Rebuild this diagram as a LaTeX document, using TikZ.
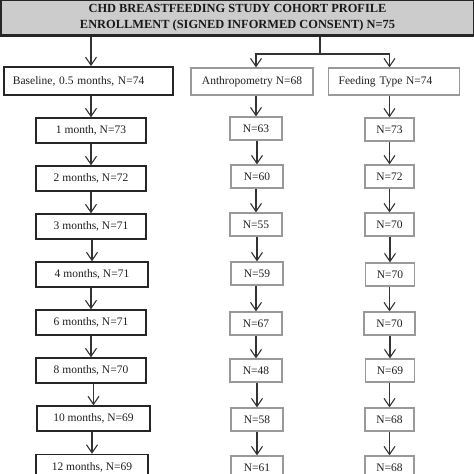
\documentclass[tikz,border=0pt]{standalone}
\usepackage{fontspec}
\setmainfont{Liberation Serif}
\usetikzlibrary{arrows.meta}
\begin{document}
\begin{tikzpicture}[x=1pt,y=-1pt,
  txt/.style={font=\fontsize{11.5}{13}\selectfont, text=black!88},
  lbox/.style={txt, draw=black!85, line width=1.5pt, minimum height=25pt, minimum width=110pt, inner sep=0pt},
  gbox/.style={txt, draw=black!40, line width=1.3pt, minimum height=23pt, inner sep=0pt},
  mbox/.style={gbox, minimum width=52pt},
  rbox/.style={gbox, minimum width=49pt},
  link/.style={draw=black!80, line width=1.1pt},
  arr/.style={link, -{Straight Barb[length=8pt,width=11pt,line width=1.1pt]}},
]
\useasboundingbox (0,0) rectangle (474,474);
\clip (0,0) rectangle (474,474);

% header
\node[draw=black!85, fill=black!20, line width=2.2pt, minimum width=473pt, minimum height=36pt,
      inner sep=0pt, align=center, font=\fontsize{12.4}{16}\selectfont\bfseries, text=black!90]
  (head) at (237.5,17.5) {CHD BREASTFEEDING STUDY COHORT PROFILE\\ENROLLMENT (SIGNED INFORMED CONSENT) N=75};

% left column
\node[lbox, line width=1.8pt, minimum height=28pt, minimum width=0pt, anchor=west, text width=151pt, align=left, inner xsep=9pt]
  (base) at (3,81) {Baseline, 0.5 months, N=74};
\node[lbox] (m1) at (91,130.5) {1 month, N=73};
\node[lbox] (m2) at (91,178.5) {2 months, N=72};
\node[lbox] (m3) at (91,226.5) {3 months, N=71};
\node[lbox, minimum width=112pt] (m4) at (92,274.5) {4 months, N=71};
\node[lbox] (m6) at (91,322.5) {6 months, N=71};
\node[lbox] (m8) at (91,370.5) {8 months, N=70};
\node[lbox, minimum width=113pt] (m10) at (93.5,418.5) {10 months, N=69};
\node[lbox, minimum width=112pt] (m12) at (92,467) {12 months, N=69};

% middle column
\node[gbox, minimum height=27pt, minimum width=122pt] (anth) at (252,81.5) {Anthropometry N=68};
\node[mbox] (a1) at (256,128.5) {N=63};
\node[mbox] (a2) at (257,176.5) {N=60};
\node[mbox] (a3) at (256,224.5) {N=55};
\node[mbox] (a4) at (257,273.5) {N=59};
\node[mbox] (a6) at (256,323.5) {N=67};
\node[mbox] (a8) at (256,370.5) {N=48};
\node[mbox] (a10) at (257,419.5) {N=58};
\node[mbox] (a12) at (257,467.5) {N=61};

% right column
\node[gbox, minimum height=27pt, anchor=west, text width=111pt, align=left, inner xsep=10pt]
  (feed) at (328,81.5) {Feeding Type N=74};
\node[rbox] (f1) at (389.5,129.5) {N=73};
\node[rbox] (f2) at (389.5,176.5) {N=72};
\node[rbox] (f3) at (389.5,224.5) {N=70};
\node[rbox] (f4) at (390,274.5) {N=70};
\node[rbox, minimum width=51pt] (f6) at (389.5,323.5) {N=70};
\node[rbox] (f8) at (390,370.5) {N=69};
\node[rbox] (f10) at (389.5,419.5) {N=68};
\node[rbox] (f12) at (389.5,467.5) {N=68};

% connectors from header
\draw[arr] (head.south -| m1.north) -- (m1.north |- base.north);
\coordinate (j) at (320,54);
\draw[link] (head.south -| j) -- (j);
\draw[arr] (j) -| (a1.north |- anth.north);
\draw[arr] (j) -| (f1.north |- feed.north);

% column arrows
\draw[arr] (m1.north |- base.south) -- (m1.north);
\foreach \p/\q in {m1/m2, m2/m3, m3/m4, m4/m6, m6/m8, m8/m10, m10/m12}
  \draw[arr] (\p.south -| \q.north) -- (\q.north);
\draw[arr] (a1.north |- anth.south) -- (a1.north);
\foreach \p/\q in {a1/a2, a2/a3, a3/a4, a4/a6, a6/a8, a8/a10, a10/a12}
  \draw[arr] (\p.south -| \q.north) -- (\q.north);
\draw[arr] (f1.north |- feed.south) -- (f1.north);
\foreach \p/\q in {f1/f2, f2/f3, f3/f4, f4/f6, f6/f8, f8/f10, f10/f12}
  \draw[arr] (\p.south -| \q.north) -- (\q.north);
\end{tikzpicture}
\end{document}
